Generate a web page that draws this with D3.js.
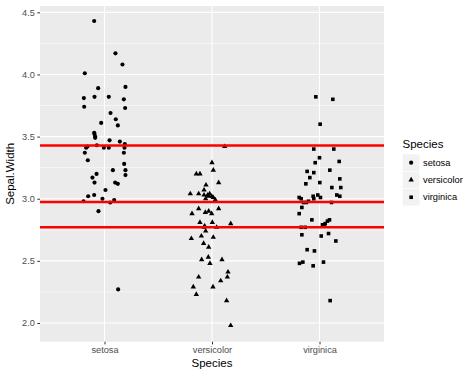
<!DOCTYPE html>
<html>
<head>
<meta charset="utf-8">
<script src="https://cdn.jsdelivr.net/npm/d3@7"></script>
<style>
  body { margin: 0; background: #fff; }
  text { font-family: "Liberation Sans", Arial, Helvetica, sans-serif; }
</style>
</head>
<body>
<svg width="474" height="377"></svg>
<script>
const species = ['setosa', 'versicolor', 'virginica'];
const yTicks = [2.0, 2.5, 3.0, 3.5, 4.0, 4.5];
const yMinor = [2.25, 2.75, 3.25, 3.75, 4.25];
const speciesMeans = [3.428, 2.770, 2.974];

// jitter offsets (category units) and Sepal.Width
const setosaJitter = [-0.096,0.102,0.167,-0.183,-0.059,0.195,-0.192,-0.093,0.040,0.180,-0.189,0.192,0.056,0.105,-0.031,0.124,-0.096,-0.093,-0.087,-0.087,0.047,0.143,0.189,-0.071,-0.158,-0.171,-0.006,0.040,0.186,-0.183,0.180,-0.155,0.183,0.078,0.195,-0.074,0.195,-0.112,-0.093,0.099,0.124,0.009,-0.152,-0.096,-0.019,-0.195,0.090,0.053,-0.056,0.127];
const setosaWidth = [4.43,4.17,4.08,4.01,3.89,3.90,3.81,3.82,3.82,3.80,3.74,3.73,3.69,3.64,3.61,3.59,3.53,3.52,3.50,3.49,3.47,3.46,3.44,3.43,3.42,3.41,3.41,3.41,3.41,3.37,3.37,3.31,3.28,3.23,3.23,3.20,3.19,3.17,3.13,3.13,3.12,3.07,3.02,3.03,3.00,2.98,2.99,2.97,2.90,2.27];

const versicolorJitter = [0.118,0.000,0.012,-0.146,-0.112,0.062,-0.056,-0.074,-0.202,-0.124,-0.074,-0.040,-0.022,-0.003,0.012,0.031,-0.059,-0.124,-0.186,-0.062,-0.003,0.062,-0.031,0.025,-0.112,0.003,0.174,-0.074,-0.059,0.043,-0.192,-0.099,0.012,-0.078,-0.031,-0.096,-0.034,-0.019,0.093,0.149,-0.124,0.143,0.081,-0.174,0.009,-0.146,0.136,0.174,-0.068,-0.034];
const versicolorWidth = [3.42,3.29,3.23,3.20,3.20,3.13,3.11,3.07,3.04,3.04,3.03,3.03,3.04,3.02,3.01,2.99,3.00,2.92,2.88,2.89,2.88,2.92,2.90,2.98,2.81,2.81,2.80,2.77,2.74,2.77,2.68,2.70,2.69,2.64,2.61,2.51,2.53,2.48,2.51,2.41,2.37,2.37,2.34,2.29,2.29,2.23,2.18,1.98,2.78,3.02];

const virginicaJitter = [-0.034,0.124,0.006,-0.053,0.133,0.000,-0.040,0.183,-0.115,-0.053,0.096,-0.090,-0.127,0.003,0.189,0.115,0.198,-0.016,-0.059,0.009,0.161,0.189,-0.189,-0.171,-0.121,-0.149,-0.053,0.112,-0.164,-0.189,-0.071,0.093,0.074,0.053,0.043,-0.171,-0.133,-0.164,0.016,0.084,0.152,-0.115,-0.047,-0.186,-0.155,-0.059,0.037,0.099,0.028,-0.102];
const virginicaWidth = [3.82,3.80,3.60,3.40,3.40,3.33,3.29,3.30,3.22,3.21,3.23,3.17,3.12,3.13,3.16,3.09,3.09,3.03,3.02,3.01,3.03,3.02,3.01,3.00,2.97,2.97,3.00,2.97,2.93,2.88,2.83,2.83,2.82,2.80,2.79,2.77,2.77,2.71,2.70,2.72,2.66,2.59,2.58,2.48,2.49,2.46,2.49,2.18,2.79,2.98];

const jitters = [setosaJitter, versicolorJitter, virginicaJitter];
const widths = [setosaWidth, versicolorWidth, virginicaWidth];

var points = [];
species.forEach((s, i) => {
  widths[i].forEach((w, j) => points.push({species: s, jitter: jitters[i][j], width: w}));
});

var svg = d3.select('svg');

const panel = {left: 40, right: 384, top: 6, bottom: 341.7};

var x = d3.scalePoint().domain(species).range([panel.left, panel.right]).padding(0.6);
var y = d3.scaleLinear().domain([1.8495, 4.551]).range([panel.bottom, panel.top]);

var shape = d3.scaleOrdinal()
  .domain(species)
  .range([d3.symbol().type(d3.symbolCircle).size(13.5),
          d3.symbol().type(d3.symbolTriangle).size(12.5),
          d3.symbol().type(d3.symbolSquare).size(13)]);

// panel background and grid
svg.append('rect')
  .attr('x', panel.left).attr('y', panel.top)
  .attr('width', panel.right - panel.left).attr('height', panel.bottom - panel.top)
  .attr('fill', '#EBEBEB');

svg.append('g').selectAll('line')
  .data(yMinor).enter().append('line')
  .attr('x1', panel.left).attr('x2', panel.right)
  .attr('y1', d => y(d)).attr('y2', d => y(d))
  .attr('stroke', '#fff').attr('stroke-width', 0.55);

svg.append('g').selectAll('line')
  .data(yTicks).enter().append('line')
  .attr('x1', panel.left).attr('x2', panel.right)
  .attr('y1', d => y(d)).attr('y2', d => y(d))
  .attr('stroke', '#fff').attr('stroke-width', 1.1);

svg.append('g').selectAll('line')
  .data(species).enter().append('line')
  .attr('x1', d => x(d)).attr('x2', d => x(d))
  .attr('y1', panel.top).attr('y2', panel.bottom)
  .attr('stroke', '#fff').attr('stroke-width', 1.1);

// points
svg.append('g').selectAll('path')
  .data(points).enter().append('path')
  .attr('d', d => shape(d.species)())
  .attr('transform', d => 'translate(' + (x(d.species) + d.jitter * x.step()) + ',' + y(d.width) + ')')
  .attr('fill', '#000');

// mean lines
svg.append('g').selectAll('line')
  .data(speciesMeans).enter().append('line')
  .attr('x1', panel.left).attr('x2', panel.right)
  .attr('y1', d => y(d)).attr('y2', d => y(d))
  .attr('stroke', '#FF0000').attr('stroke-width', 2.4);

// axes
var yAxis = svg.append('g')
  .attr('transform', 'translate(' + panel.left + ',0)')
  .call(d3.axisLeft(y).tickValues(yTicks).tickFormat(d3.format('.1f')).tickSize(2.7).tickPadding(2.5));
var xAxis = svg.append('g')
  .attr('transform', 'translate(0,' + panel.bottom + ')')
  .call(d3.axisBottom(x).tickSize(2.7).tickPadding(2));
[yAxis, xAxis].forEach(a => {
  a.select('.domain').remove();
  a.selectAll('line').attr('stroke', '#333');
  a.selectAll('text').attr('fill', '#4D4D4D').style('font-size', '9.2px')
    .style('font-family', '"Liberation Sans", Arial, sans-serif');
});

svg.append('text')
  .attr('x', (panel.left + panel.right) / 2).attr('y', 367)
  .attr('text-anchor', 'middle').style('font-size', '11.5px')
  .text('Species');

svg.append('text')
  .attr('transform', 'translate(13.5,' + (panel.top + panel.bottom) / 2 + ') rotate(-90)')
  .attr('text-anchor', 'middle').style('font-size', '11.5px')
  .text('Sepal.Width');

// legend
var legend = svg.append('g').attr('transform', 'translate(402.5,0)');
legend.append('text')
  .attr('x', 0).attr('y', 147.5)
  .style('font-size', '11.5px')
  .text('Species');

var keys = legend.selectAll('g.key')
  .data(species).enter().append('g')
  .attr('class', 'key')
  .attr('transform', (d, i) => 'translate(0,' + (154 + i * 17.3) + ')');
keys.append('rect')
  .attr('width', 17.3).attr('height', 17.3)
  .attr('fill', '#F2F2F2').attr('stroke', '#fff').attr('stroke-width', 0.5);
keys.append('path')
  .attr('d', d => shape(d)())
  .attr('transform', 'translate(8.65,8.65)')
  .attr('fill', '#000');
keys.append('text')
  .attr('x', 20.5).attr('y', 8.65).attr('dy', '0.35em')
  .style('font-size', '9.3px')
  .text(d => d);
</script>
</body>
</html>
